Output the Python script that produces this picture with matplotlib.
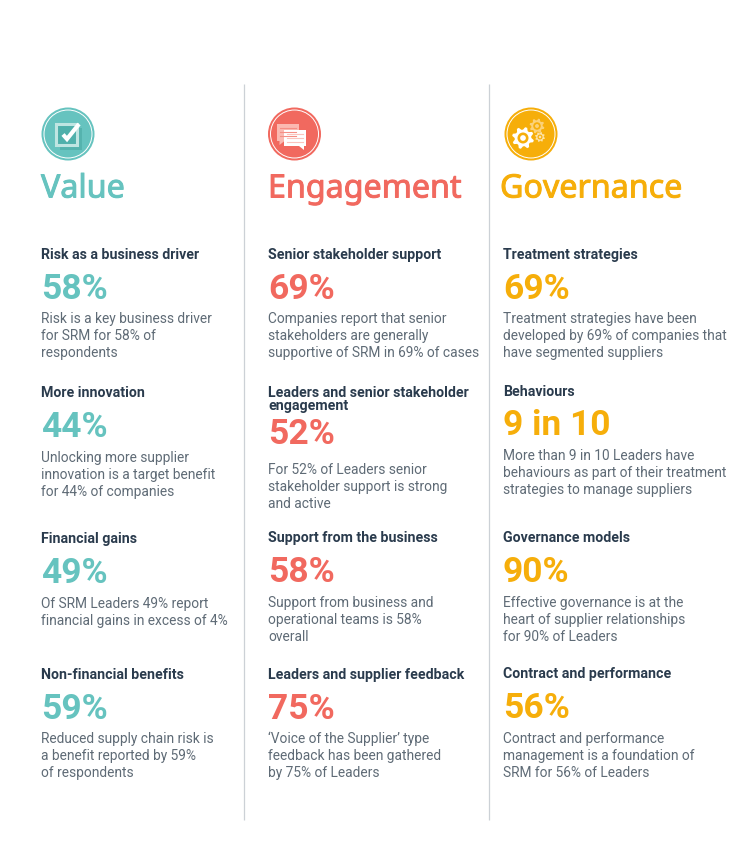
import matplotlib
matplotlib.use("Agg")
import matplotlib.pyplot as plt
import matplotlib.patheffects as pe
import numpy as np
from matplotlib.patches import Circle, Rectangle, Polygon

W, H = 752, 863
DARK = "#2a3b4d"
GREY = "#5f6b76"
LINE = "#ccd1d6"
FONT = "Roboto"

# text content
col_titles = ["Value", "Engagement", "Governance"]
col_colors = ["#66c3bf", "#f1695f", "#f6ae0a"]

value_heads = ["Risk as a business driver", "More innovation", "Financial gains", "Non-financial benefits"]
value_nums = ["58%", "44%", "49%", "59%"]
value_body = [
    ["Risk is a key business driver", "for SRM for 58% of", "respondents"],
    ["Unlocking more supplier", "innovation is a target benefit", "for 44% of companies"],
    ["Of SRM Leaders 49% report", "financial gains in excess of 4%"],
    ["Reduced supply chain risk is", "a benefit reported by 59%", "of respondents"],
]

engage_heads = ["Senior stakeholder support", "Leaders and senior stakeholder\nengagement",
                "Support from the business", "Leaders and supplier feedback"]
engage_nums = ["69%", "52%", "58%", "75%"]
engage_body = [
    ["Companies report that senior", "stakeholders are generally", "supportive of SRM in 69% of cases"],
    ["For 52% of Leaders senior", "stakeholder support is strong", "and active"],
    ["Support from business and", "operational teams is 58%", "overall"],
    ["\u2018Voice of the Supplier\u2019 type", "feedback has been gathered", "by 75% of Leaders"],
]

gov_heads = ["Treatment strategies", "Behaviours", "Governance models", "Contract and performance"]
gov_nums = ["69%", "9 in 10", "90%", "56%"]
gov_body = [
    ["Treatment strategies have been", "developed by 69% of companies that", "have segmented suppliers"],
    ["More than 9 in 10 Leaders have", "behaviours as part of their treatment", "strategies to manage suppliers"],
    ["Effective governance is at the", "heart of supplier relationships", "for 90% of Leaders"],
    ["Contract and performance", "management is a foundation of", "SRM for 56% of Leaders"],
]

# layout, in pixels from the top left
col_x = [41, 268, 503]
title_x = [41, 268, 500]
head_y = [[254.5, 392.5, 538.5, 674.5], [254.5, 392.5, 537.5, 674.5], [254.5, 391.5, 537.5, 673.5]]
num_y = [[289, 427.5, 573.5, 709.5], [289, 434.5, 572.5, 709.5], [289, 425.5, 572.5, 708.5]]
body_y = [[318.5, 457.5, 603.5, 738.5], [318.5, 469.5, 602.5, 738.5], [318.5, 455.5, 602.5, 738.5]]
icon_x = [68, 294.5, 531]
icon_y = 134
rule_x = [244, 489]

fig = plt.figure(figsize=(W / 100, H / 100), dpi=100, facecolor="white")
ax = fig.add_axes([0, 0, 1, 1])
ax.set_xlim(0, W)
ax.set_ylim(H, 0)
ax.axis("off")

for x in rule_x:
    ax.plot([x, x], [84, 820], color=LINE, lw=0.9, solid_capstyle="butt")


def badge(cx, color):
    ax.add_patch(Circle((cx, icon_y), 26.5, fc=color, ec="none"))
    ax.add_patch(Circle((cx, icon_y), 24, fc="none", ec="white", lw=0.7))


def check_icon(cx, cy):
    ax.add_patch(Rectangle((cx - 8, cy - 6), 22, 22, fc="#55b3ae", ec="none"))
    ax.add_patch(Rectangle((cx - 12, cy - 10), 21, 21, fc="#4fb0ab", ec="#bfe5e2", lw=2.2))
    ax.plot([cx - 5, cx - 1, cx + 11], [cy + 0.5, cy + 5, cy - 10], color="white", lw=3.0,
            solid_capstyle="butt", solid_joinstyle="miter")


def chat_icon(cx, cy):
    ax.add_patch(Rectangle((cx - 18, cy - 10), 22, 17, fc="#fbb9b1", ec="none"))
    ax.add_patch(Polygon([(cx - 15, cy + 7), (cx - 10, cy + 7), (cx - 15, cy + 11)], fc="#fbb9b1", ec="none"))
    for ly in [cy - 6, cy - 2, cy + 2]:
        ax.plot([cx - 15, cx + 1], [ly, ly], color="#f58f85", lw=0.8)
    ax.add_patch(Rectangle((cx - 11, cy - 4), 22, 16, fc="white", ec="none"))
    ax.add_patch(Polygon([(cx + 4, cy + 12), (cx + 9, cy + 12), (cx + 9, cy + 16)], fc="white", ec="none"))
    for ly in [cy, cy + 4, cy + 8]:
        ax.plot([cx - 8, cx + 8], [ly, ly], color="#fbc4bd", lw=0.8)


def gear(cx, cy, r, color, hole):
    n = 8
    ang = np.linspace(0, 2 * np.pi, n * 4, endpoint=False) + np.pi / (n * 2)
    rad = np.tile([r, r, r * 0.76, r * 0.76], n)
    ax.add_patch(Polygon(np.column_stack([cx + rad * np.cos(ang), cy + rad * np.sin(ang)]), fc=color, ec="none"))
    ax.add_patch(Circle((cx, cy), r * 0.5, fc=hole, ec="none"))
    ax.add_patch(Circle((cx, cy), r * 0.26, fc=color, ec="none"))


def gears_icon(cx, cy):
    gear(cx + 6, cy - 8, 7.5, "#fbd27a", "#f6ae0a")
    gear(cx + 9, cy + 3, 5, "#fde3a8", "#f6ae0a")
    gear(cx - 8, cy + 4, 11, "white", "#f6ae0a")


for i in range(3):
    badge(icon_x[i], col_colors[i])
    t = ax.text(title_x[i], 189, col_titles[i], color=col_colors[i], fontsize=23.2, family="Noto Sans",
                va="center", ha="left")
    # title lettering is a bit heavier than the regular weight
    t.set_path_effects([pe.withStroke(linewidth=0.7, foreground=col_colors[i])])
check_icon(icon_x[0], icon_y)
chat_icon(icon_x[1], icon_y)
gears_icon(icon_x[2], icon_y)

heads = [value_heads, engage_heads, gov_heads]
nums = [value_nums, engage_nums, gov_nums]
bodies = [value_body, engage_body, gov_body]

for c in range(3):
    for r in range(4):
        parts = heads[c][r].split("\n")
        for k, part in enumerate(parts):
            ax.text(col_x[c], head_y[c][r] + k * 13, part, color=DARK, fontsize=10.2, family=FONT,
                    weight="bold", va="center", ha="left")
        ax.text(col_x[c], num_y[c][r], nums[c][r], color=col_colors[c], fontsize=25.5, family=FONT,
                weight="bold", va="center", ha="left")
        for k, line in enumerate(bodies[c][r]):
            ax.text(col_x[c], body_y[c][r] + k * 17, line, color=GREY, fontsize=9.9, family=FONT,
                    va="center", ha="left")

fig.savefig("out.png", dpi=100, facecolor="white")
